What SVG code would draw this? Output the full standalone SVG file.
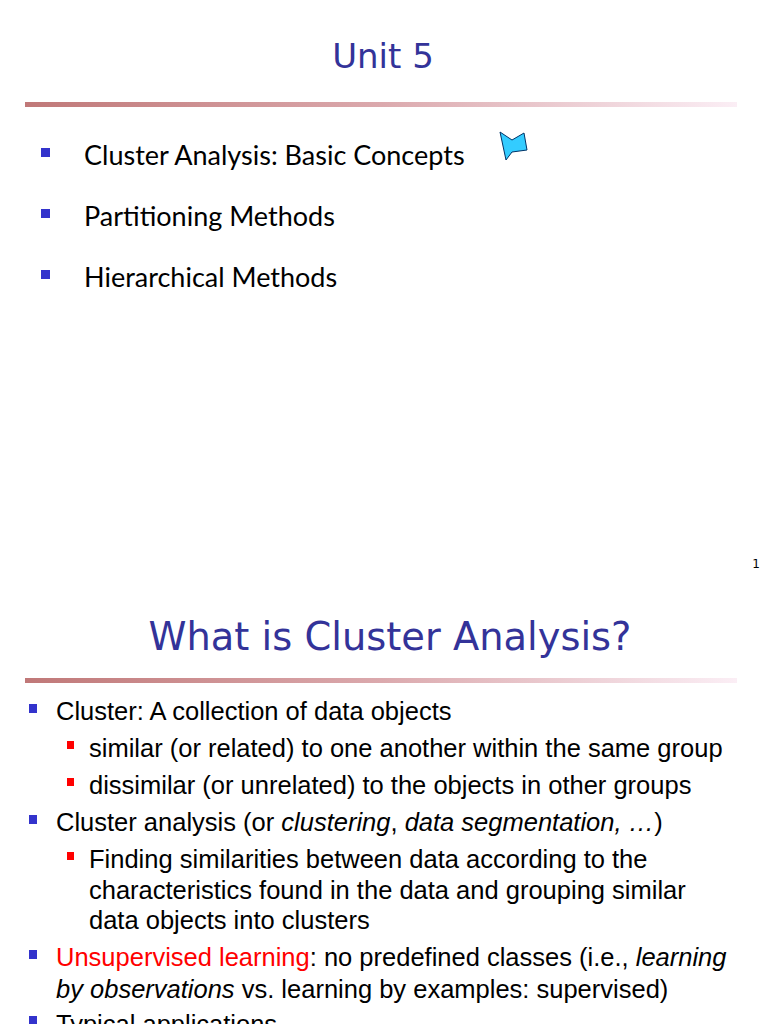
<svg xmlns="http://www.w3.org/2000/svg" width="768" height="1024" viewBox="0 0 768 1024">
<defs>
<linearGradient id="rule" x1="0" x2="1" y1="0" y2="0">
<stop offset="0" stop-color="#c07878"/><stop offset="0.5" stop-color="#dba9ad"/><stop offset="1" stop-color="#fbeef5"/>
</linearGradient>
<style>
.t1{font-family:Lato,"Open Sans",sans-serif;font-size:27px;fill:#000}
.t2{font-family:"Liberation Sans",Arial,sans-serif;font-size:25.5px;fill:#000}
.ttl{font-family:"DejaVu Sans",sans-serif;fill:#333399;text-anchor:middle}
.bb{fill:#3333cc}.rb{fill:#ff0000}
</style>
</defs>
<rect width="768" height="1024" fill="#fff"/>
<text class="ttl" x="383" y="68" font-size="34">Unit 5</text>
<rect x="25" y="102" width="712" height="5" fill="url(#rule)"/>
<rect class="bb" x="41" y="148" width="9" height="9"/>
<rect class="bb" x="41" y="209" width="9" height="9"/>
<rect class="bb" x="41" y="270" width="9" height="9"/>
<text class="t1" x="84" y="165">Cluster Analysis: Basic Concepts</text>
<text class="t1" x="84" y="226">Partitioning Methods</text>
<text class="t1" x="84" y="287">Hierarchical Methods</text>
<path d="M500,132 L512,140 L524,133 L527,150 L512,152 L506,160 Z" fill="#33ccff" stroke="#003366" stroke-width="1"/>
<text x="756" y="568" font-family="DejaVu Sans,sans-serif" font-size="12" text-anchor="middle">1</text>
<text class="ttl" x="390" y="650" font-size="38.4">What is Cluster Analysis?</text>
<rect x="25" y="678" width="712" height="5" fill="url(#rule)"/>
<g class="t2">
<rect class="bb" x="29" y="704" width="8" height="9"/>
<text x="56" y="720">Cluster: A collection of data objects</text>
<rect class="rb" x="67" y="741" width="7" height="8"/>
<text x="89" y="757">similar (or related) to one another within the same group</text>
<rect class="rb" x="67" y="778" width="7" height="8"/>
<text x="89" y="794">dissimilar (or unrelated) to the objects in other groups</text>
<rect class="bb" x="29" y="815" width="8" height="9"/>
<text x="56" y="831">Cluster analysis (or <tspan font-style="italic">clustering</tspan>, <tspan font-style="italic">data segmentation, …</tspan>)</text>
<rect class="rb" x="67" y="852" width="7" height="8"/>
<text x="89" y="868">Finding similarities between data according to the</text>
<text x="89" y="899">characteristics found in the data and grouping similar</text>
<text x="89" y="929">data objects into clusters</text>
<rect class="bb" x="29" y="950" width="8" height="9"/>
<text x="56" y="966"><tspan fill="#ff0000">Unsupervised learning</tspan>: no predefined classes (i.e., <tspan font-style="italic">learning</tspan></text>
<text x="56" y="998"><tspan font-style="italic">by observations</tspan> vs. learning by examples: supervised)</text>
<rect class="bb" x="29" y="1016" width="8" height="9"/>
<text x="56" y="1033">Typical applications</text>
</g>
</svg>
